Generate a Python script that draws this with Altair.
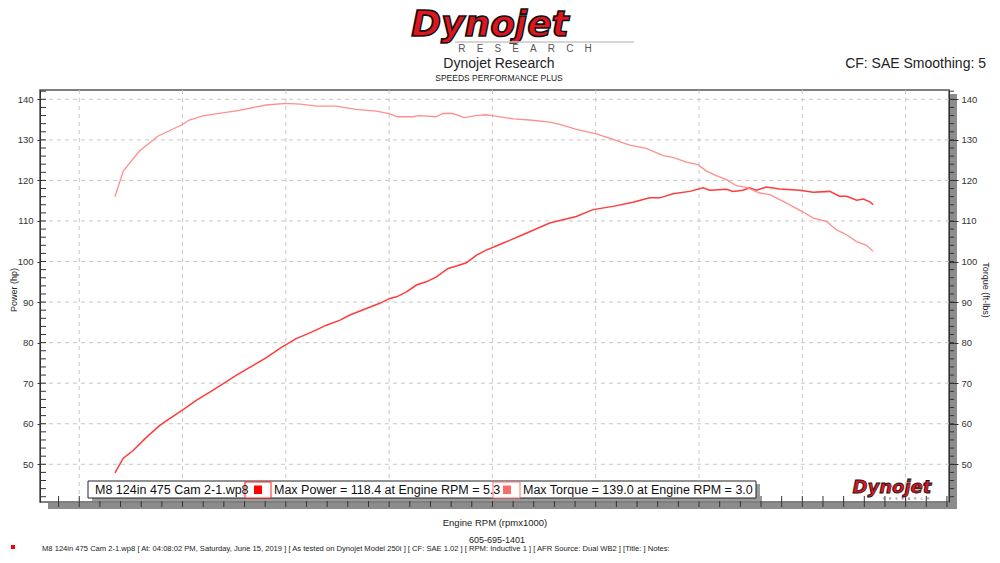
import altair as alt
import pandas as pd

# ---------------- data ----------------
power_rpm = [2.173, 2.213, 2.261, 2.326, 2.390, 2.439, 2.503, 2.568, 2.632, 2.697,
             2.761, 2.842, 2.906, 2.971, 3.050, 3.130, 3.196, 3.260, 3.310, 3.390,
             3.455, 3.503, 3.536, 3.584, 3.632, 3.680, 3.729, 3.785, 3.826, 3.874,
             3.923, 3.970, 4.027, 4.050, 4.147, 4.277, 4.406, 4.487, 4.584, 4.680,
             4.761, 4.810, 4.874, 4.955, 5.020, 5.052, 5.133, 5.165, 5.213, 5.245,
             5.278, 5.326, 5.390, 5.487, 5.553, 5.633, 5.680, 5.714, 5.763, 5.795,
             5.827, 5.843]
power_hp = [47.9, 51.5, 53.4, 56.7, 59.6, 61.3, 63.5, 65.8, 67.8, 69.9,
            72.0, 74.4, 76.3, 78.6, 81.0, 82.7, 84.3, 85.5, 86.8, 88.4,
            89.7, 90.9, 91.3, 92.5, 94.2, 95.0, 96.2, 98.3, 98.9, 99.7,
            101.6, 102.8, 104.0, 104.5, 106.6, 109.5, 111.1, 112.8, 113.6, 114.6,
            115.7, 115.7, 116.7, 117.3, 118.2, 117.6, 117.8, 117.3, 117.6, 118.2,
            117.6, 118.4, 117.9, 117.6, 117.1, 117.3, 116.1, 116.1, 115.1, 115.4,
            114.7, 114.0]

torque_rpm = [2.173, 2.213, 2.290, 2.380, 2.500, 2.533, 2.597, 2.775, 2.904, 3.000,
              3.070, 3.150, 3.243, 3.340, 3.437, 3.500, 3.540, 3.614, 3.646, 3.727,
              3.760, 3.808, 3.864, 3.920, 3.969, 4.000, 4.100, 4.180, 4.277, 4.326,
              4.406, 4.503, 4.584, 4.664, 4.745, 4.826, 4.874, 4.939, 4.995, 5.036,
              5.084, 5.133, 5.181, 5.230, 5.294, 5.343, 5.424, 5.504, 5.553, 5.617,
              5.666, 5.714, 5.763, 5.811, 5.843]
torque_ftlb = [116.0, 122.3, 127.2, 130.9, 133.8, 134.9, 135.9, 137.3, 138.6, 139.0,
               138.8, 138.3, 138.3, 137.5, 137.1, 136.5, 135.7, 135.7, 136.0, 135.7,
               136.5, 136.5, 135.5, 136.0, 136.2, 136.0, 135.2, 134.9, 134.4, 133.8,
               132.6, 131.5, 130.1, 128.7, 127.9, 126.1, 125.7, 124.5, 123.9, 122.3,
               121.2, 120.2, 118.7, 118.3, 116.9, 116.5, 114.4, 112.2, 110.7, 109.9,
               107.8, 106.6, 104.9, 104.0, 102.5]

x_tick_values = [2.0, 2.5, 3.0, 3.5, 4.0, 4.5, 5.0, 5.5, 6.0]
y_tick_values = [50, 60, 70, 80, 90, 100, 110, 120, 130, 140]
y_minor_values = [42, 44, 46, 48, 50, 52, 54, 56, 58, 60, 62, 64, 66, 68, 70, 72, 74, 76,
                  78, 80, 82, 84, 86, 88, 90, 92, 94, 96, 98, 100, 102, 104, 106, 108,
                  110, 112, 114, 116, 118, 120, 122, 124, 126, 128, 130, 132, 134, 136,
                  138, 140, 142]
x_minor_values = [1.9, 2.0, 2.1, 2.2, 2.3, 2.4, 2.5, 2.6, 2.7, 2.8, 2.9, 3.0, 3.1, 3.2,
                  3.3, 3.4, 3.5, 3.6, 3.7, 3.8, 3.9, 4.0, 4.1, 4.2, 4.3, 4.4, 4.5, 4.6,
                  4.7, 4.8, 4.9, 5.0, 5.1, 5.2, 5.3, 5.4, 5.5, 5.6, 5.7, 5.8, 5.9, 6.0,
                  6.1, 6.2]

logo_text = ["Dynojet"]
logo_sub = ["R\u00a0\u00a0\u00a0\u00a0E\u00a0\u00a0\u00a0\u00a0S\u00a0\u00a0\u00a0\u00a0E\u00a0\u00a0\u00a0\u00a0A\u00a0\u00a0\u00a0\u00a0R\u00a0\u00a0\u00a0\u00a0C\u00a0\u00a0\u00a0\u00a0H"]
header_title = ["Dynojet Research"]
header_sub = ["SPEEDS PERFORMANCE PLUS"]
header_right = ["CF: SAE Smoothing: 5"]
x_title = ["Engine RPM (rpmx1000)"]
y_left_title = ["Power (hp)"]
y_right_title = ["Torque (ft-lbs)"]
phone = ["605-695-1401"]
footer = ["M8 124in 475 Cam 2-1.wp8 [ At: 04:08:02 PM, Saturday, June 15, 2019 ] "
          "[ As tested on Dynojet Model 250i ] [ CF: SAE 1.02 ] [ RPM: Inductive 1 ] "
          "[ AFR Source: Dual WB2 ] [Title: ]  Notes:"]
legend_run = ["M8 124in 475 Cam 2-1.wp8"]
legend_power = ["Max Power = 118.4 at Engine RPM = 5.3"]
legend_torque = ["Max Torque = 139.0 at Engine RPM = 3.0"]

POWER_COLOR = "#ff3b3b"
TORQUE_COLOR = "#ff8f8f"
FONT = "Liberation Sans"

W, H = 909, 412
xs = alt.Scale(domain=[1.81, 6.21], nice=False, zero=False)
ys = alt.Scale(domain=[40.7, 142.3], nice=False, zero=False)

one = pd.DataFrame({"a": [0]})


def text(values, x, y, size, align="left", color="#222", font=FONT, baseline="middle", **kw):
    return alt.Chart(pd.DataFrame({"t": values})).mark_text(
        align=align, baseline=baseline, fontSize=size, font=font, color=color, **kw
    ).encode(x=alt.value(x), y=alt.value(y), text="t:N")


def box(x, x2, y, y2, **kw):
    return alt.Chart(one).mark_rect(**kw).encode(
        x=alt.value(x), x2=alt.value(x2), y=alt.value(y), y2=alt.value(y2))


grid_x = alt.Chart(pd.DataFrame({"v": x_tick_values})).mark_rule(
    color="#c8c8c8", strokeDash=[4, 4], strokeWidth=1
).encode(x=alt.X("v:Q", scale=xs, axis=None))
grid_y = alt.Chart(pd.DataFrame({"v": y_tick_values})).mark_rule(
    color="#c8c8c8", strokeDash=[4, 4], strokeWidth=1
).encode(y=alt.Y("v:Q", scale=ys, axis=None))

shadow_right = box(910, 917, 4, 419, color="#8c8c8c")
shadow_bottom = box(8, 917, 413, 419, color="#8c8c8c")

axis_common = dict(zindex=1, grid=False, labelFont=FONT, labelFontSize=9.5,
                   labelColor="#333", domainColor="#333", tickColor="#333", title=None)

df_p = pd.DataFrame({"rpm": power_rpm, "hp": power_hp})
df_t = pd.DataFrame({"rpm": torque_rpm, "tq": torque_ftlb})

power = alt.Chart(df_p).mark_line(color=POWER_COLOR, strokeWidth=1.5).encode(
    x=alt.X("rpm:Q", scale=xs,
            axis=alt.Axis(values=x_tick_values, format=".1f", tickSize=7, labelPadding=7,
                          **axis_common)),
    y=alt.Y("hp:Q", scale=ys,
            axis=alt.Axis(orient="left", values=y_tick_values, format="d", tickSize=3,
                          labelPadding=4, **axis_common)),
)
torque = alt.Chart(df_t).mark_line(color=TORQUE_COLOR, strokeWidth=1.3).encode(
    x=alt.X("rpm:Q", scale=xs, axis=None),
    y=alt.Y("tq:Q", scale=ys,
            axis=alt.Axis(orient="right", values=y_tick_values, format="d", tickSize=9,
                          labelPadding=3, **axis_common)),
)

minor_left = alt.Chart(pd.DataFrame({"v": y_minor_values})).mark_rule(color="#333").encode(
    y=alt.Y("v:Q", scale=ys, axis=None), x=alt.value(0), x2=alt.value(6))
minor_right = alt.Chart(pd.DataFrame({"v": y_minor_values})).mark_rule(color="#333").encode(
    y=alt.Y("v:Q", scale=ys, axis=None), x=alt.value(909), x2=alt.value(914))
minor_bottom_in = alt.Chart(pd.DataFrame({"v": x_minor_values})).mark_rule(color="#333").encode(
    x=alt.X("v:Q", scale=xs, axis=None), y=alt.value(406), y2=alt.value(412))
minor_bottom_out = alt.Chart(pd.DataFrame({"v": x_minor_values})).mark_rule(color="#333").encode(
    x=alt.X("v:Q", scale=xs, axis=None), y=alt.value(412), y2=alt.value(417))

# legend box inside the plot
leg_shadow = box(52, 720, 394, 411, color="#9a9a9a")
leg_box = box(48, 716, 391, 408, color="white", stroke="#222", strokeWidth=1)
leg_p_frame = box(205, 231, 392, 408, fill="white", stroke="#ff2020", strokeWidth=1)
leg_p_sq = box(214, 222, 395.5, 404, color="#ff0000")
leg_t_frame = box(453, 480, 392, 408, fill="white", stroke="#ff7070", strokeWidth=1)
leg_t_sq = box(463, 471, 395.5, 404, color="#ff6b6b")
leg_run = text(legend_run, 55, 400, 12.5, color="#111")
leg_pw = text(legend_power, 234, 400, 12.5, color="#111")
leg_tq = text(legend_torque, 483, 400, 12.5, color="#111")

small_logo = text(logo_text, 852, 398, 18, align="center", color="#e0161e",
                  font="DejaVu Sans", fontWeight="bold", fontStyle="italic",
                  stroke="#111", strokeWidth=0.8)
small_logo_sub = text(logo_sub, 866, 409, 3.5, align="center", color="#666")

# header
big_logo = text(logo_text, 450, -54, 36, align="center", color="#e0161e",
                font="DejaVu Sans", baseline="alphabetic", fontWeight="bold",
                fontStyle="italic", stroke="#111", strokeWidth=1.6)
logo_line = alt.Chart(one).mark_rule(color="#c8c8c8", strokeWidth=1.5).encode(
    x=alt.value(415), x2=alt.value(594), y=alt.value(-48))
logo_research = text(logo_sub, 485, -41, 10, align="center", color="#555")
h_title = text(header_title, 459, -26, 14, align="center", color="#222")
h_sub = text(header_sub, 459, -12, 8.5, align="center", color="#222")
h_right = text(header_right, 946, -26, 14, align="right", color="#222")

# axis titles and footer
t_x = text(x_title, 455, 433, 9.5, align="center", color="#222")
t_yl = text(y_left_title, -26, 200, 9, align="center", color="#222", angle=270)
t_yr = text(y_right_title, 946, 200, 9, align="center", color="#222", angle=90)
t_phone = text(phone, 457, 450, 9, align="center", color="#222")
t_footer = text(footer, 2, 459, 7.6, color="#222")
footer_sq = box(-29, -25, 455, 459, color="#ff0000")

chart = alt.layer(
    grid_x, grid_y, shadow_right, shadow_bottom,
    power, torque,
    minor_left, minor_right, minor_bottom_in, minor_bottom_out,
    leg_shadow, leg_box, leg_p_frame, leg_p_sq, leg_t_frame, leg_t_sq,
    leg_run, leg_pw, leg_tq, small_logo, small_logo_sub,
    big_logo, logo_line, logo_research, h_title, h_sub, h_right,
    t_x, t_yl, t_yr, t_phone, t_footer, footer_sq,
).resolve_scale(y="independent").properties(
    width=W, height=H,
    padding={"left": 32, "top": 82, "right": 43, "bottom": 52},
    autosize=alt.AutoSizeParams(type="none"),
).configure(background="white").configure_view(stroke="#555", strokeWidth=1.5)

chart.save("out.html", embed_options={"renderer": "svg", "actions": False})
